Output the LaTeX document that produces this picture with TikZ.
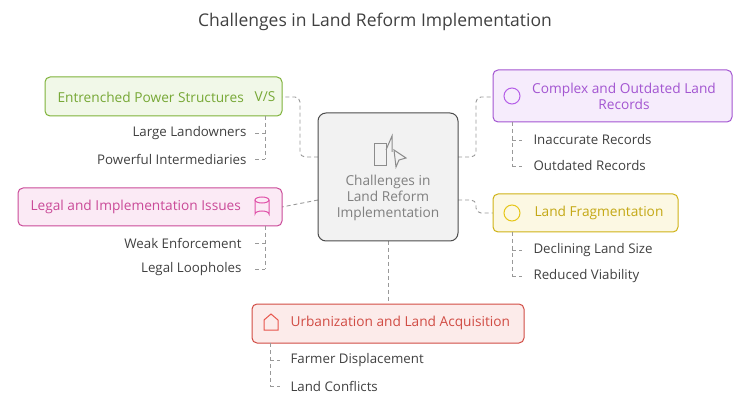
\documentclass[tikz,border=0pt]{standalone}
\usepackage{fontspec}
\setmainfont{Open Sans}
\begin{document}
\begin{tikzpicture}[x=1pt,y=-1pt,
 box/.style={draw=#1!90!black,fill=#1!12,line width=1pt,rounded corners=5pt},
 dsh/.style={draw=gray!80,line width=0.9pt,dash pattern=on 4pt off 3pt,rounded corners=5pt},
 sub/.style={font=\fontsize{13.3}{15}\selectfont,text=black!75},
 lab/.style={font=\fontsize{13.7}{16}\selectfont,align=center}]
\useasboundingbox (0,0) rectangle (750,414);
\definecolor{cg}{HTML}{8CC63F}\definecolor{cp}{HTML}{E052A9}\definecolor{cv}{HTML}{B55EE8}
\definecolor{cy}{HTML}{E6C619}\definecolor{cr}{HTML}{E8554C}
\node[font=\fontsize{17.5}{20}\selectfont,text=black!75] (t) at (375,22) {Challenges in Land Reform Implementation};
% connectors
\draw[dsh] (318,157) -- (300,157) -- (300,97) -- (282,97);
\draw[dsh] (318,200) -- (282,207);
\draw[dsh] (458,157) -- (476,157) -- (476,97) -- (493,97);
\draw[dsh] (458,200) -- (476,200) -- (476,213) -- (493,213);
\draw[dsh] (388,241) -- (388,304);
% center
\draw[fill=black!5,draw=black!70,line width=1pt,rounded corners=8pt] (318,113) rectangle (458,241);
\node[lab,text=black!50] (c) at (388,198) {Challenges in\\Land Reform\\Implementation};
\begin{scope}[draw=black!45,line width=1pt]
\draw (374,144) rectangle (386,166); \draw (386,150)--(392,136)--(392,152);
\draw (394,150)--(406,158)--(399,160)--(396,167)--cycle;
\end{scope}
% left
\draw[box=cg] (45,77) rectangle (282,116);
\node[lab,text=cg!85!black,anchor=west] (a) at (54,97) {Entrenched Power Structures};
\node[lab,text=cg!85!black] at (265,97) {V/S};
\draw[dsh,rounded corners=0] (265,116)--(265,159); \draw[dsh,rounded corners=0] (255,133)--(265,133) (255,159)--(265,159);
\node[sub,anchor=east] (a1) at (250,133) {Large Landowners};
\node[sub,anchor=east] (a2) at (250,159) {Powerful Intermediaries};
\draw[box=cp] (18,188) rectangle (282,226);
\node[lab,text=cp!90!black,anchor=west] (b) at (27,207) {Legal and Implementation Issues};
\draw[cp,line width=1pt] (262,200) ellipse (7 and 3); \draw[cp,line width=1pt] (255,200)--(255,214) arc(180:360:7 and 3)--(269,200);
\draw[dsh,rounded corners=0] (265,226)--(265,269) (255,243)--(265,243) (255,269)--(265,269);
\node[sub,anchor=east] (b1) at (245,243) {Weak Enforcement};
\node[sub,anchor=east] (b2) at (245,269) {Legal Loopholes};
% right
\draw[box=cv] (493,70) rectangle (732,122);
\node[lab,text=cv!90!black] (d) at (624,96) {Complex and Outdated Land\\Records};
\draw[cv,line width=1pt] (512,96) circle (8);
\draw[dsh,rounded corners=0] (512,122)--(512,166) (512,140)--(522,140) (512,166)--(522,166);
\node[sub,anchor=west] (d1) at (530,140) {Inaccurate Records};
\node[sub,anchor=west] (d2) at (530,166) {Outdated Records};
\draw[box=cy] (493,194) rectangle (678,232);
\node[lab,text=cy!85!black,anchor=west] (e) at (531,213) {Land Fragmentation};
\draw[cy,line width=1pt] (512,213) circle (8);
\draw[dsh,rounded corners=0] (512,232)--(512,276) (512,250)--(522,250) (512,276)--(522,276);
\node[sub,anchor=west] (e1) at (530,250) {Declining Land Size};
\node[sub,anchor=west] (e2) at (530,276) {Reduced Viability};
% bottom
\draw[box=cr] (252,304) rectangle (524,343);
\node[lab,text=cr!90!black,anchor=west] (f) at (287,323) {Urbanization and Land Acquisition};
\draw[cr,line width=1pt] (264,330)--(264,320)--(271,314)--(278,320)--(278,330)--cycle;
\draw[dsh,rounded corners=0] (270,343)--(270,386) (270,360)--(280,360) (270,386)--(280,386);
\node[sub,anchor=west] (f1) at (287,360) {Farmer Displacement};
\node[sub,anchor=west] (f2) at (287,386) {Land Conflicts};
\end{tikzpicture}
\end{document}
